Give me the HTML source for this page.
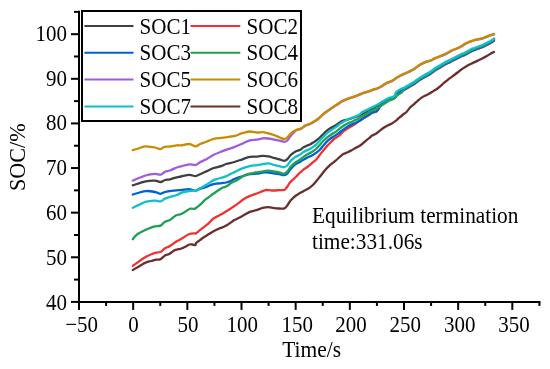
<!DOCTYPE html>
<html><head><meta charset="utf-8"><style>
html,body{margin:0;padding:0;background:#fff;}
svg{display:block;}
text{font-family:"Liberation Serif","Times New Roman",serif;font-size:21.5px;fill:#000;}
</style></head><body>
<svg width="550" height="369" viewBox="0 0 550 369">
<rect width="550" height="369" fill="#fff"/>
<path d="M132.80,185.40 C134.93,184.72 141.90,182.10 145.60,181.30 C149.30,180.50 152.52,180.48 155.00,180.60 C157.48,180.72 158.83,182.10 160.50,182.00 C162.17,181.90 163.42,180.45 165.00,180.00 C166.58,179.55 168.03,179.75 170.00,179.30 C171.97,178.85 174.95,177.77 176.80,177.30 C178.65,176.83 179.02,176.92 181.10,176.50 C183.18,176.08 186.92,174.87 189.30,174.80 C191.68,174.73 193.60,176.20 195.40,176.10 C197.20,176.00 198.18,175.03 200.10,174.20 C202.02,173.37 204.63,172.13 206.90,171.10 C209.17,170.07 211.22,168.87 213.70,168.00 C216.18,167.13 219.73,166.57 221.80,165.90 C223.87,165.23 224.02,164.65 226.10,164.00 C228.18,163.35 231.58,162.78 234.30,162.00 C237.02,161.22 239.82,160.15 242.40,159.30 C244.98,158.45 247.32,157.35 249.80,156.90 C252.28,156.45 255.15,156.77 257.30,156.60 C259.45,156.43 260.85,155.95 262.70,155.90 C264.55,155.85 266.55,155.97 268.40,156.30 C270.25,156.63 271.98,157.40 273.80,157.90 C275.62,158.40 277.55,158.82 279.30,159.30 C281.05,159.78 282.97,160.82 284.30,160.80 C285.63,160.78 286.27,160.13 287.30,159.20 C288.33,158.27 289.25,156.42 290.50,155.20 C291.75,153.98 293.17,152.80 294.80,151.90 C296.43,151.00 298.93,150.52 300.30,149.80 C301.67,149.08 302.00,148.23 303.00,147.60 C304.00,146.97 305.22,146.48 306.30,146.00 C307.38,145.52 308.42,145.23 309.50,144.70 C310.58,144.17 311.72,143.48 312.80,142.80 C313.88,142.12 314.92,141.40 316.00,140.60 C317.08,139.80 318.22,138.95 319.30,138.00 C320.38,137.05 321.42,135.97 322.50,134.90 C323.58,133.83 324.72,132.58 325.80,131.60 C326.88,130.62 327.88,129.75 329.00,129.00 C330.12,128.25 331.23,127.83 332.50,127.10 C333.77,126.37 335.23,125.48 336.60,124.60 C337.97,123.72 339.33,122.55 340.70,121.80 C342.07,121.05 343.55,120.48 344.80,120.10 C346.05,119.72 346.55,119.98 348.20,119.50 C349.85,119.02 352.80,117.87 354.70,117.20 C356.60,116.53 357.97,116.23 359.60,115.50 C361.23,114.77 362.87,113.75 364.50,112.80 C366.13,111.85 368.15,110.50 369.40,109.80 C370.65,109.10 370.75,109.23 372.00,108.60 C373.25,107.97 375.32,106.88 376.90,106.00 C378.48,105.12 380.08,104.15 381.50,103.30 C382.92,102.45 384.10,101.63 385.40,100.90 C386.70,100.17 388.17,99.35 389.30,98.90 C390.43,98.45 391.22,98.62 392.20,98.20 C393.18,97.78 394.57,97.20 395.20,96.40 C395.83,95.60 395.22,94.35 396.00,93.40 C396.78,92.45 398.42,91.53 399.90,90.70 C401.38,89.87 403.25,89.25 404.90,88.40 C406.55,87.55 408.18,86.55 409.80,85.60 C411.42,84.65 412.98,83.78 414.60,82.70 C416.22,81.62 417.87,80.18 419.50,79.10 C421.13,78.02 422.65,77.18 424.40,76.20 C426.15,75.22 428.18,74.37 430.00,73.20 C431.82,72.03 433.60,70.33 435.30,69.20 C437.00,68.07 438.57,67.35 440.20,66.40 C441.83,65.45 443.47,64.38 445.10,63.50 C446.73,62.62 448.35,61.93 450.00,61.10 C451.65,60.27 453.67,59.18 455.00,58.50 C456.33,57.82 456.75,57.63 458.00,57.00 C459.25,56.37 461.50,55.12 462.50,54.70 C463.50,54.28 463.10,54.92 464.00,54.50 C464.90,54.08 466.60,52.93 467.90,52.20 C469.20,51.47 470.50,50.68 471.80,50.10 C473.10,49.52 474.40,49.18 475.70,48.70 C477.00,48.22 478.30,47.70 479.60,47.20 C480.90,46.70 482.20,46.27 483.50,45.70 C484.80,45.13 486.10,44.48 487.40,43.80 C488.70,43.12 490.20,42.30 491.30,41.60 C492.40,40.90 493.55,39.93 494.00,39.60" fill="none" stroke="#404040" stroke-width="2.3" stroke-linejoin="round" stroke-linecap="round"/>
<path d="M132.80,265.90 C134.93,264.43 141.90,259.28 145.60,257.10 C149.30,254.92 152.52,253.65 155.00,252.80 C157.48,251.95 158.83,252.75 160.50,252.00 C162.17,251.25 163.42,249.30 165.00,248.30 C166.58,247.30 168.03,247.17 170.00,246.00 C171.97,244.83 174.95,242.45 176.80,241.30 C178.65,240.15 179.10,240.28 181.10,239.10 C183.10,237.92 186.42,235.15 188.80,234.20 C191.18,233.25 194.20,233.53 195.40,233.40 C196.60,233.27 195.25,233.93 196.00,233.40 C196.75,232.87 198.60,231.23 199.90,230.20 C201.20,229.17 202.50,228.20 203.80,227.20 C205.10,226.20 206.57,225.18 207.70,224.20 C208.83,223.22 209.62,222.27 210.60,221.30 C211.58,220.33 212.45,219.23 213.60,218.40 C214.75,217.57 216.20,216.98 217.50,216.30 C218.80,215.62 220.10,215.03 221.40,214.30 C222.70,213.57 224.00,212.70 225.30,211.90 C226.60,211.10 228.08,210.22 229.20,209.50 C230.32,208.78 230.98,208.28 232.00,207.60 C233.02,206.92 234.22,206.13 235.30,205.40 C236.38,204.67 237.25,204.13 238.50,203.20 C239.75,202.27 241.53,200.72 242.80,199.80 C244.07,198.88 245.02,198.32 246.10,197.70 C247.18,197.08 248.03,196.60 249.30,196.10 C250.57,195.60 252.25,195.22 253.70,194.70 C255.15,194.18 256.55,193.58 258.00,193.00 C259.45,192.42 261.13,191.68 262.40,191.20 C263.67,190.72 264.52,190.28 265.60,190.10 C266.68,189.92 267.53,190.03 268.90,190.10 C270.27,190.17 272.07,190.50 273.80,190.50 C275.53,190.50 277.53,190.22 279.30,190.10 C281.07,189.98 283.23,190.13 284.40,189.80 C285.57,189.47 285.68,188.83 286.30,188.10 C286.92,187.37 287.48,186.32 288.10,185.40 C288.72,184.48 289.23,183.53 290.00,182.60 C290.77,181.67 291.78,180.68 292.70,179.80 C293.62,178.92 294.62,178.17 295.50,177.30 C296.38,176.43 297.12,175.48 298.00,174.60 C298.88,173.72 299.80,172.90 300.80,172.00 C301.80,171.10 302.80,170.12 304.00,169.20 C305.20,168.28 306.58,167.58 308.00,166.50 C309.42,165.42 311.08,163.92 312.50,162.70 C313.92,161.48 315.22,160.58 316.50,159.20 C317.78,157.82 318.90,156.05 320.20,154.40 C321.50,152.75 323.10,150.77 324.30,149.30 C325.50,147.83 326.35,146.75 327.40,145.60 C328.45,144.45 329.50,143.50 330.60,142.40 C331.70,141.30 332.58,140.13 334.00,139.00 C335.42,137.87 337.58,136.85 339.10,135.60 C340.62,134.35 341.75,132.63 343.10,131.50 C344.45,130.37 345.97,129.58 347.20,128.80 C348.43,128.02 349.45,127.43 350.50,126.80 C351.55,126.17 352.50,125.63 353.50,125.00 C354.50,124.37 355.48,123.68 356.50,123.00 C357.52,122.32 358.27,121.78 359.60,120.90 C360.93,120.02 362.87,118.72 364.50,117.70 C366.13,116.68 368.15,115.62 369.40,114.80 C370.65,113.98 370.75,113.40 372.00,112.80 C373.25,112.20 375.32,112.62 376.90,111.20 C378.48,109.78 380.08,105.85 381.50,104.30 C382.92,102.75 384.10,102.63 385.40,101.90 C386.70,101.17 388.17,100.35 389.30,99.90 C390.43,99.45 391.22,99.62 392.20,99.20 C393.18,98.78 394.57,98.20 395.20,97.40 C395.83,96.60 395.22,95.35 396.00,94.40 C396.78,93.45 398.42,92.53 399.90,91.70 C401.38,90.87 403.25,90.25 404.90,89.40 C406.55,88.55 408.18,87.55 409.80,86.60 C411.42,85.65 412.98,84.78 414.60,83.70 C416.22,82.62 417.87,81.18 419.50,80.10 C421.13,79.02 422.65,78.18 424.40,77.20 C426.15,76.22 428.18,75.37 430.00,74.20 C431.82,73.03 433.60,71.33 435.30,70.20 C437.00,69.07 438.57,68.35 440.20,67.40 C441.83,66.45 443.47,65.38 445.10,64.50 C446.73,63.62 448.35,62.93 450.00,62.10 C451.65,61.27 453.67,60.18 455.00,59.50 C456.33,58.82 456.75,58.63 458.00,58.00 C459.25,57.37 461.50,56.12 462.50,55.70 C463.50,55.28 463.10,55.92 464.00,55.50 C464.90,55.08 466.60,53.93 467.90,53.20 C469.20,52.47 470.50,51.68 471.80,51.10 C473.10,50.52 474.40,50.18 475.70,49.70 C477.00,49.22 478.30,48.70 479.60,48.20 C480.90,47.70 482.20,47.27 483.50,46.70 C484.80,46.13 486.10,45.48 487.40,44.80 C488.70,44.12 490.20,43.30 491.30,42.60 C492.40,41.90 493.55,40.93 494.00,40.60" fill="none" stroke="#F03232" stroke-width="2.3" stroke-linejoin="round" stroke-linecap="round"/>
<path d="M132.80,194.50 C134.93,193.93 141.90,191.52 145.60,191.10 C149.30,190.68 152.52,191.55 155.00,192.00 C157.48,192.45 158.83,193.80 160.50,193.80 C162.17,193.80 163.42,192.45 165.00,192.00 C166.58,191.55 168.03,191.38 170.00,191.10 C171.97,190.82 174.95,190.47 176.80,190.30 C178.65,190.13 179.02,190.30 181.10,190.10 C183.18,189.90 186.92,189.00 189.30,189.10 C191.68,189.20 193.57,190.78 195.40,190.70 C197.23,190.62 198.75,189.13 200.30,188.60 C201.85,188.07 203.25,187.97 204.70,187.50 C206.15,187.03 207.57,186.35 209.00,185.80 C210.43,185.25 211.85,184.58 213.30,184.20 C214.75,183.82 216.25,183.68 217.70,183.50 C219.15,183.32 220.55,183.27 222.00,183.10 C223.45,182.93 224.95,182.85 226.40,182.50 C227.85,182.15 229.38,181.58 230.70,181.00 C232.02,180.42 232.35,179.78 234.30,179.00 C236.25,178.22 239.82,177.10 242.40,176.30 C244.98,175.50 247.32,174.65 249.80,174.20 C252.28,173.75 255.15,173.88 257.30,173.60 C259.45,173.32 260.85,172.68 262.70,172.50 C264.55,172.32 266.55,172.37 268.40,172.50 C270.25,172.63 271.98,173.02 273.80,173.30 C275.62,173.58 277.55,173.90 279.30,174.20 C281.05,174.50 282.97,175.20 284.30,175.10 C285.63,175.00 286.27,174.57 287.30,173.60 C288.33,172.63 289.25,170.75 290.50,169.30 C291.75,167.85 293.17,166.17 294.80,164.90 C296.43,163.63 298.48,162.78 300.30,161.70 C302.12,160.62 304.42,159.15 305.70,158.40 C306.98,157.65 307.10,157.60 308.00,157.20 C308.90,156.80 310.13,156.47 311.10,156.00 C312.07,155.53 312.80,155.03 313.80,154.40 C314.80,153.77 316.02,153.05 317.10,152.20 C318.18,151.35 319.40,150.23 320.30,149.30 C321.20,148.37 321.58,147.68 322.50,146.60 C323.42,145.52 324.72,143.97 325.80,142.80 C326.88,141.63 327.92,140.53 329.00,139.60 C330.08,138.67 331.43,137.77 332.30,137.20 C333.17,136.63 333.20,136.83 334.20,136.20 C335.20,135.57 336.95,134.38 338.30,133.40 C339.65,132.42 340.95,131.30 342.30,130.30 C343.65,129.30 345.03,128.28 346.40,127.40 C347.77,126.52 349.57,125.53 350.50,125.00 C351.43,124.47 351.28,124.50 352.00,124.20 C352.72,123.90 353.53,123.78 354.80,123.20 C356.07,122.62 357.98,121.65 359.60,120.70 C361.22,119.75 362.87,118.52 364.50,117.50 C366.13,116.48 368.15,115.42 369.40,114.60 C370.65,113.78 370.75,113.20 372.00,112.60 C373.25,112.00 375.32,112.42 376.90,111.00 C378.48,109.58 380.08,105.65 381.50,104.10 C382.92,102.55 384.10,102.43 385.40,101.70 C386.70,100.97 388.17,100.15 389.30,99.70 C390.43,99.25 391.22,99.42 392.20,99.00 C393.18,98.58 394.57,98.00 395.20,97.20 C395.83,96.40 395.22,95.15 396.00,94.20 C396.78,93.25 398.42,92.33 399.90,91.50 C401.38,90.67 403.25,90.05 404.90,89.20 C406.55,88.35 408.18,87.35 409.80,86.40 C411.42,85.45 412.98,84.58 414.60,83.50 C416.22,82.42 417.87,80.98 419.50,79.90 C421.13,78.82 422.65,77.98 424.40,77.00 C426.15,76.02 428.18,75.17 430.00,74.00 C431.82,72.83 433.60,71.13 435.30,70.00 C437.00,68.87 438.57,68.15 440.20,67.20 C441.83,66.25 443.47,65.18 445.10,64.30 C446.73,63.42 448.35,62.73 450.00,61.90 C451.65,61.07 453.67,59.98 455.00,59.30 C456.33,58.62 456.75,58.43 458.00,57.80 C459.25,57.17 461.50,55.92 462.50,55.50 C463.50,55.08 463.10,55.72 464.00,55.30 C464.90,54.88 466.60,53.73 467.90,53.00 C469.20,52.27 470.50,51.48 471.80,50.90 C473.10,50.32 474.40,49.98 475.70,49.50 C477.00,49.02 478.30,48.50 479.60,48.00 C480.90,47.50 482.20,47.07 483.50,46.50 C484.80,45.93 486.10,45.28 487.40,44.60 C488.70,43.92 490.20,43.10 491.30,42.40 C492.40,41.70 493.55,40.73 494.00,40.40" fill="none" stroke="#0060D8" stroke-width="2.3" stroke-linejoin="round" stroke-linecap="round"/>
<path d="M132.80,239.20 C133.50,238.42 135.08,235.95 137.00,234.50 C138.92,233.05 142.13,231.58 144.30,230.50 C146.47,229.42 148.22,228.70 150.00,228.00 C151.78,227.30 153.25,226.70 155.00,226.30 C156.75,225.90 158.83,226.35 160.50,225.60 C162.17,224.85 163.35,222.78 165.00,221.80 C166.65,220.82 168.60,220.77 170.40,219.70 C172.20,218.63 173.98,216.35 175.80,215.40 C177.62,214.45 179.48,214.78 181.30,214.00 C183.12,213.22 185.17,211.60 186.70,210.70 C188.23,209.80 189.23,208.90 190.50,208.60 C191.77,208.30 193.13,209.18 194.30,208.90 C195.47,208.62 196.23,207.87 197.50,206.90 C198.77,205.93 200.65,204.27 201.90,203.10 C203.15,201.93 203.82,200.92 205.00,199.90 C206.18,198.88 207.55,198.07 209.00,197.00 C210.45,195.93 211.57,195.00 213.70,193.50 C215.83,192.00 219.73,189.18 221.80,188.00 C223.87,186.82 224.40,187.30 226.10,186.40 C227.80,185.50 230.47,183.50 232.00,182.60 C233.53,181.70 234.22,181.57 235.30,181.00 C236.38,180.43 237.25,179.98 238.50,179.20 C239.75,178.42 241.35,177.10 242.80,176.30 C244.25,175.50 245.75,174.90 247.20,174.40 C248.65,173.90 250.07,173.62 251.50,173.30 C252.93,172.98 254.35,172.75 255.80,172.50 C257.25,172.25 258.75,172.03 260.20,171.80 C261.65,171.57 263.05,171.28 264.50,171.10 C265.95,170.92 267.35,170.63 268.90,170.70 C270.45,170.77 272.07,171.20 273.80,171.50 C275.53,171.80 277.55,172.15 279.30,172.50 C281.05,172.85 282.97,173.77 284.30,173.60 C285.63,173.43 286.27,172.58 287.30,171.50 C288.33,170.42 289.25,168.55 290.50,167.10 C291.75,165.65 293.17,164.07 294.80,162.80 C296.43,161.53 298.93,160.42 300.30,159.50 C301.67,158.58 302.00,158.05 303.00,157.30 C304.00,156.55 305.22,155.67 306.30,155.00 C307.38,154.33 308.42,153.90 309.50,153.30 C310.58,152.70 311.72,152.12 312.80,151.40 C313.88,150.68 314.92,150.00 316.00,149.00 C317.08,148.00 318.22,146.62 319.30,145.40 C320.38,144.18 321.42,142.82 322.50,141.70 C323.58,140.58 324.72,139.65 325.80,138.70 C326.88,137.75 327.88,136.82 329.00,136.00 C330.12,135.18 331.23,134.62 332.50,133.80 C333.77,132.98 335.23,132.08 336.60,131.10 C337.97,130.12 339.33,128.92 340.70,127.90 C342.07,126.88 343.45,125.82 344.80,125.00 C346.15,124.18 347.60,123.53 348.80,123.00 C350.00,122.47 351.00,122.25 352.00,121.80 C353.00,121.35 353.53,120.95 354.80,120.30 C356.07,119.65 357.98,118.78 359.60,117.90 C361.22,117.02 362.87,115.95 364.50,115.00 C366.13,114.05 368.15,112.93 369.40,112.20 C370.65,111.47 370.75,111.20 372.00,110.60 C373.25,110.00 375.27,109.48 376.90,108.60 C378.53,107.72 379.73,106.63 381.80,105.30 C383.87,103.97 387.57,101.57 389.30,100.60 C391.03,99.63 391.22,100.02 392.20,99.50 C393.18,98.98 394.23,98.27 395.20,97.50 C396.17,96.73 396.87,95.78 398.00,94.90 C399.13,94.02 400.85,93.32 402.00,92.20 C403.15,91.08 403.60,89.33 404.90,88.20 C406.20,87.07 408.18,86.35 409.80,85.40 C411.42,84.45 412.98,83.58 414.60,82.50 C416.22,81.42 417.87,79.98 419.50,78.90 C421.13,77.82 422.65,76.98 424.40,76.00 C426.15,75.02 428.18,74.17 430.00,73.00 C431.82,71.83 433.60,70.13 435.30,69.00 C437.00,67.87 438.57,67.15 440.20,66.20 C441.83,65.25 443.47,64.18 445.10,63.30 C446.73,62.42 448.35,61.73 450.00,60.90 C451.65,60.07 453.67,58.98 455.00,58.30 C456.33,57.62 456.75,57.43 458.00,56.80 C459.25,56.17 461.50,54.92 462.50,54.50 C463.50,54.08 463.10,54.72 464.00,54.30 C464.90,53.88 466.60,52.73 467.90,52.00 C469.20,51.27 470.50,50.48 471.80,49.90 C473.10,49.32 474.40,48.98 475.70,48.50 C477.00,48.02 478.30,47.50 479.60,47.00 C480.90,46.50 482.20,46.07 483.50,45.50 C484.80,44.93 486.10,44.28 487.40,43.60 C488.70,42.92 490.20,42.10 491.30,41.40 C492.40,40.70 493.55,39.73 494.00,39.40" fill="none" stroke="#20A050" stroke-width="2.3" stroke-linejoin="round" stroke-linecap="round"/>
<path d="M132.80,180.60 C134.93,179.75 141.90,176.62 145.60,175.50 C149.30,174.38 152.52,174.05 155.00,173.90 C157.48,173.75 158.83,174.95 160.50,174.60 C162.17,174.25 163.42,172.48 165.00,171.80 C166.58,171.12 168.03,171.22 170.00,170.50 C171.97,169.78 174.95,168.20 176.80,167.50 C178.65,166.80 179.02,166.83 181.10,166.30 C183.18,165.77 186.92,164.52 189.30,164.30 C191.68,164.08 193.60,165.33 195.40,165.00 C197.20,164.67 198.18,163.32 200.10,162.30 C202.02,161.28 204.63,160.15 206.90,158.90 C209.17,157.65 211.22,156.05 213.70,154.80 C216.18,153.55 219.73,152.23 221.80,151.40 C223.87,150.57 224.02,150.52 226.10,149.80 C228.18,149.08 231.58,148.12 234.30,147.10 C237.02,146.08 239.82,144.83 242.40,143.70 C244.98,142.57 247.32,140.98 249.80,140.30 C252.28,139.62 255.15,139.93 257.30,139.60 C259.45,139.27 260.85,138.48 262.70,138.30 C264.55,138.12 266.55,138.30 268.40,138.50 C270.25,138.70 271.98,139.15 273.80,139.50 C275.62,139.85 277.55,140.22 279.30,140.60 C281.05,140.98 282.95,141.82 284.30,141.80 C285.65,141.78 286.48,141.30 287.40,140.50 C288.32,139.70 288.87,138.20 289.80,137.00 C290.73,135.80 291.92,134.42 293.00,133.30 C294.08,132.18 294.95,131.07 296.30,130.30 C297.65,129.53 299.65,129.43 301.10,128.70 C302.55,127.97 303.80,126.57 305.00,125.90 C306.20,125.23 307.08,125.23 308.30,124.70 C309.52,124.17 310.95,123.43 312.30,122.70 C313.65,121.97 315.05,121.25 316.40,120.30 C317.75,119.35 319.05,118.17 320.40,117.00 C321.75,115.83 323.27,114.32 324.50,113.30 C325.73,112.28 326.72,111.67 327.80,110.90 C328.88,110.13 329.75,109.55 331.00,108.70 C332.25,107.85 334.05,106.62 335.30,105.80 C336.55,104.98 337.42,104.50 338.50,103.80 C339.58,103.10 340.58,102.28 341.80,101.60 C343.02,100.92 344.45,100.27 345.80,99.70 C347.15,99.13 348.53,98.67 349.90,98.20 C351.27,97.73 352.65,97.38 354.00,96.90 C355.35,96.42 356.67,95.85 358.00,95.30 C359.33,94.75 360.68,94.10 362.00,93.60 C363.32,93.10 364.60,92.72 365.90,92.30 C367.20,91.88 368.50,91.55 369.80,91.10 C371.10,90.65 372.40,90.03 373.70,89.60 C375.00,89.17 376.30,89.00 377.60,88.50 C378.90,88.00 380.10,87.43 381.50,86.60 C382.90,85.77 384.20,84.45 386.00,83.50 C387.80,82.55 390.63,81.77 392.30,80.90 C393.97,80.03 394.73,79.10 396.00,78.30 C397.27,77.50 398.60,76.80 399.90,76.10 C401.20,75.40 402.50,74.70 403.80,74.10 C405.10,73.50 406.40,73.08 407.70,72.50 C409.00,71.92 410.30,71.33 411.60,70.60 C412.90,69.87 414.20,68.98 415.50,68.10 C416.80,67.22 418.10,66.12 419.40,65.30 C420.70,64.48 422.00,63.80 423.30,63.20 C424.60,62.60 425.90,62.15 427.20,61.70 C428.50,61.25 429.98,60.97 431.10,60.50 C432.22,60.03 432.78,59.43 433.90,58.90 C435.02,58.37 436.50,57.82 437.80,57.30 C439.10,56.78 440.40,56.33 441.70,55.80 C443.00,55.27 444.30,54.75 445.60,54.10 C446.90,53.45 448.20,52.58 449.50,51.90 C450.80,51.22 452.10,50.57 453.40,50.00 C454.70,49.43 456.00,49.08 457.30,48.50 C458.60,47.92 459.75,47.32 461.20,46.50 C462.65,45.68 464.70,44.32 466.00,43.60 C467.30,42.88 467.42,42.80 469.00,42.20 C470.58,41.60 473.33,40.60 475.50,40.00 C477.67,39.40 479.83,39.25 482.00,38.60 C484.17,37.95 486.50,36.82 488.50,36.10 C490.50,35.38 493.08,34.60 494.00,34.30" fill="none" stroke="#A05CDC" stroke-width="2.3" stroke-linejoin="round" stroke-linecap="round"/>
<path d="M132.80,150.00 C133.50,149.83 135.63,149.42 137.00,149.00 C138.37,148.58 139.57,147.93 141.00,147.50 C142.43,147.07 144.10,146.52 145.60,146.40 C147.10,146.28 148.43,146.62 150.00,146.80 C151.57,146.98 153.25,147.10 155.00,147.50 C156.75,147.90 158.90,149.32 160.50,149.20 C162.10,149.08 163.02,147.25 164.60,146.80 C166.18,146.35 167.97,146.75 170.00,146.50 C172.03,146.25 174.97,145.50 176.80,145.30 C178.63,145.10 178.92,145.52 181.00,145.30 C183.08,145.08 186.90,143.82 189.30,144.00 C191.70,144.18 193.60,146.40 195.40,146.40 C197.20,146.40 198.18,144.82 200.10,144.00 C202.02,143.18 204.63,142.37 206.90,141.50 C209.17,140.63 211.22,139.40 213.70,138.80 C216.18,138.20 219.53,138.18 221.80,137.90 C224.07,137.62 225.73,137.33 227.30,137.10 C228.87,136.87 229.90,136.70 231.20,136.50 C232.50,136.30 233.23,136.47 235.10,135.90 C236.97,135.33 239.95,133.83 242.40,133.10 C244.85,132.37 247.32,131.60 249.80,131.50 C252.28,131.40 255.15,132.38 257.30,132.50 C259.45,132.62 261.00,132.08 262.70,132.20 C264.40,132.32 265.65,132.73 267.50,133.20 C269.35,133.67 271.83,134.32 273.80,135.00 C275.77,135.68 277.58,136.63 279.30,137.30 C281.02,137.97 282.90,138.85 284.10,139.00 C285.30,139.15 285.55,138.95 286.50,138.20 C287.45,137.45 288.72,135.58 289.80,134.50 C290.88,133.42 291.92,132.45 293.00,131.70 C294.08,130.95 294.95,130.55 296.30,130.00 C297.65,129.45 299.65,129.13 301.10,128.40 C302.55,127.67 303.80,126.27 305.00,125.60 C306.20,124.93 307.08,124.93 308.30,124.40 C309.52,123.87 310.95,123.13 312.30,122.40 C313.65,121.67 315.05,120.95 316.40,120.00 C317.75,119.05 319.05,117.87 320.40,116.70 C321.75,115.53 323.27,114.02 324.50,113.00 C325.73,111.98 326.72,111.37 327.80,110.60 C328.88,109.83 329.75,109.25 331.00,108.40 C332.25,107.55 334.05,106.32 335.30,105.50 C336.55,104.68 337.42,104.20 338.50,103.50 C339.58,102.80 340.58,101.98 341.80,101.30 C343.02,100.62 344.45,99.97 345.80,99.40 C347.15,98.83 348.53,98.37 349.90,97.90 C351.27,97.43 352.65,97.08 354.00,96.60 C355.35,96.12 356.67,95.55 358.00,95.00 C359.33,94.45 360.68,93.80 362.00,93.30 C363.32,92.80 364.60,92.42 365.90,92.00 C367.20,91.58 368.50,91.25 369.80,90.80 C371.10,90.35 372.40,89.73 373.70,89.30 C375.00,88.87 376.30,88.70 377.60,88.20 C378.90,87.70 380.10,87.13 381.50,86.30 C382.90,85.47 384.20,84.15 386.00,83.20 C387.80,82.25 390.63,81.47 392.30,80.60 C393.97,79.73 394.73,78.80 396.00,78.00 C397.27,77.20 398.60,76.50 399.90,75.80 C401.20,75.10 402.50,74.40 403.80,73.80 C405.10,73.20 406.40,72.78 407.70,72.20 C409.00,71.62 410.30,71.03 411.60,70.30 C412.90,69.57 414.20,68.68 415.50,67.80 C416.80,66.92 418.10,65.82 419.40,65.00 C420.70,64.18 422.00,63.50 423.30,62.90 C424.60,62.30 425.90,61.85 427.20,61.40 C428.50,60.95 429.98,60.67 431.10,60.20 C432.22,59.73 432.78,59.13 433.90,58.60 C435.02,58.07 436.50,57.52 437.80,57.00 C439.10,56.48 440.40,56.03 441.70,55.50 C443.00,54.97 444.30,54.45 445.60,53.80 C446.90,53.15 448.20,52.28 449.50,51.60 C450.80,50.92 452.10,50.27 453.40,49.70 C454.70,49.13 456.00,48.78 457.30,48.20 C458.60,47.62 459.75,47.02 461.20,46.20 C462.65,45.38 464.70,44.02 466.00,43.30 C467.30,42.58 467.42,42.50 469.00,41.90 C470.58,41.30 473.33,40.30 475.50,39.70 C477.67,39.10 479.83,38.95 482.00,38.30 C484.17,37.65 486.50,36.52 488.50,35.80 C490.50,35.08 493.08,34.30 494.00,34.00" fill="none" stroke="#C88C00" stroke-width="2.3" stroke-linejoin="round" stroke-linecap="round"/>
<path d="M132.80,207.80 C134.93,206.82 141.90,203.10 145.60,201.90 C149.30,200.70 152.52,200.70 155.00,200.60 C157.48,200.50 158.83,201.63 160.50,201.30 C162.17,200.97 163.42,199.35 165.00,198.60 C166.58,197.85 168.03,197.40 170.00,196.80 C171.97,196.20 174.95,195.67 176.80,195.00 C178.65,194.33 179.02,193.47 181.10,192.80 C183.18,192.13 186.92,191.35 189.30,191.00 C191.68,190.65 194.28,190.75 195.40,190.70 C196.52,190.65 195.18,191.13 196.00,190.70 C196.82,190.27 198.85,188.92 200.30,188.10 C201.75,187.28 203.25,186.63 204.70,185.80 C206.15,184.97 207.57,184.00 209.00,183.10 C210.43,182.20 211.85,181.12 213.30,180.40 C214.75,179.68 216.25,179.25 217.70,178.80 C219.15,178.35 220.55,178.15 222.00,177.70 C223.45,177.25 224.95,176.73 226.40,176.10 C227.85,175.47 229.38,174.55 230.70,173.90 C232.02,173.25 232.35,173.12 234.30,172.20 C236.25,171.28 239.82,169.42 242.40,168.40 C244.98,167.38 247.32,166.65 249.80,166.10 C252.28,165.55 255.15,165.43 257.30,165.10 C259.45,164.77 260.85,164.38 262.70,164.10 C264.55,163.82 266.55,163.27 268.40,163.40 C270.25,163.53 271.98,164.45 273.80,164.90 C275.62,165.35 277.55,165.73 279.30,166.10 C281.05,166.47 282.97,167.20 284.30,167.10 C285.63,167.00 286.27,166.50 287.30,165.50 C288.33,164.50 289.25,162.45 290.50,161.10 C291.75,159.75 293.17,158.52 294.80,157.40 C296.43,156.28 298.93,155.27 300.30,154.40 C301.67,153.53 302.00,152.83 303.00,152.20 C304.00,151.57 305.22,151.08 306.30,150.60 C307.38,150.12 308.42,149.88 309.50,149.30 C310.58,148.72 311.72,147.87 312.80,147.10 C313.88,146.33 314.92,145.68 316.00,144.70 C317.08,143.72 318.22,142.40 319.30,141.20 C320.38,140.00 321.42,138.65 322.50,137.50 C323.58,136.35 324.72,135.28 325.80,134.30 C326.88,133.32 327.88,132.42 329.00,131.60 C330.12,130.78 331.23,130.23 332.50,129.40 C333.77,128.57 335.23,127.60 336.60,126.60 C337.97,125.60 339.33,124.35 340.70,123.40 C342.07,122.45 343.45,121.65 344.80,120.90 C346.15,120.15 347.60,119.43 348.80,118.90 C350.00,118.37 351.00,118.07 352.00,117.70 C353.00,117.33 353.53,117.22 354.80,116.70 C356.07,116.18 358.40,115.33 359.60,114.60 C360.80,113.87 360.95,113.00 362.00,112.30 C363.05,111.60 364.60,111.05 365.90,110.40 C367.20,109.75 368.50,109.05 369.80,108.40 C371.10,107.75 372.40,107.15 373.70,106.50 C375.00,105.85 376.30,105.23 377.60,104.50 C378.90,103.77 380.20,102.90 381.50,102.10 C382.80,101.30 384.10,100.43 385.40,99.70 C386.70,98.97 388.17,98.15 389.30,97.70 C390.43,97.25 391.22,97.42 392.20,97.00 C393.18,96.58 394.57,96.00 395.20,95.20 C395.83,94.40 395.22,93.15 396.00,92.20 C396.78,91.25 398.42,90.33 399.90,89.50 C401.38,88.67 403.25,88.05 404.90,87.20 C406.55,86.35 408.18,85.35 409.80,84.40 C411.42,83.45 412.98,82.58 414.60,81.50 C416.22,80.42 417.87,78.98 419.50,77.90 C421.13,76.82 422.65,75.98 424.40,75.00 C426.15,74.02 428.18,73.17 430.00,72.00 C431.82,70.83 433.60,69.13 435.30,68.00 C437.00,66.87 438.57,66.15 440.20,65.20 C441.83,64.25 443.47,63.18 445.10,62.30 C446.73,61.42 448.35,60.73 450.00,59.90 C451.65,59.07 453.67,57.98 455.00,57.30 C456.33,56.62 456.75,56.43 458.00,55.80 C459.25,55.17 461.50,53.92 462.50,53.50 C463.50,53.08 463.10,53.72 464.00,53.30 C464.90,52.88 466.60,51.73 467.90,51.00 C469.20,50.27 470.50,49.48 471.80,48.90 C473.10,48.32 474.40,47.98 475.70,47.50 C477.00,47.02 478.30,46.50 479.60,46.00 C480.90,45.50 482.20,45.07 483.50,44.50 C484.80,43.93 486.10,43.28 487.40,42.60 C488.70,41.92 490.20,41.10 491.30,40.40 C492.40,39.70 493.55,38.73 494.00,38.40" fill="none" stroke="#10C0C8" stroke-width="2.3" stroke-linejoin="round" stroke-linecap="round"/>
<path d="M132.80,270.00 C134.50,268.98 140.75,265.17 143.00,263.90 C145.25,262.63 145.22,262.82 146.30,262.40 C147.38,261.98 148.42,261.70 149.50,261.40 C150.58,261.10 151.72,260.90 152.80,260.60 C153.88,260.30 154.80,259.80 156.00,259.60 C157.20,259.40 158.85,259.80 160.00,259.40 C161.15,259.00 161.92,257.92 162.90,257.20 C163.88,256.48 164.92,255.60 165.90,255.10 C166.88,254.60 167.83,254.67 168.80,254.20 C169.77,253.73 170.73,252.97 171.70,252.30 C172.67,251.63 173.62,250.68 174.60,250.20 C175.58,249.72 176.62,249.62 177.60,249.40 C178.58,249.18 179.53,249.20 180.50,248.90 C181.47,248.60 182.43,248.05 183.40,247.60 C184.37,247.15 185.32,246.72 186.30,246.20 C187.28,245.68 188.32,244.78 189.30,244.50 C190.28,244.22 191.18,244.38 192.20,244.50 C193.22,244.62 194.77,245.43 195.40,245.20 C196.03,244.97 195.25,243.93 196.00,243.10 C196.75,242.27 198.60,241.17 199.90,240.20 C201.20,239.23 202.50,238.20 203.80,237.30 C205.10,236.40 206.40,235.62 207.70,234.80 C209.00,233.98 210.30,233.17 211.60,232.40 C212.90,231.63 214.20,230.85 215.50,230.20 C216.80,229.55 218.10,229.03 219.40,228.50 C220.70,227.97 222.00,227.57 223.30,227.00 C224.60,226.43 225.75,225.98 227.20,225.10 C228.65,224.22 230.82,222.53 232.00,221.70 C233.18,220.87 232.57,221.05 234.30,220.10 C236.03,219.15 239.82,217.37 242.40,216.00 C244.98,214.63 247.32,212.92 249.80,211.90 C252.28,210.88 255.15,210.57 257.30,209.90 C259.45,209.23 260.85,208.35 262.70,207.90 C264.55,207.45 266.55,207.17 268.40,207.20 C270.25,207.23 271.98,207.88 273.80,208.10 C275.62,208.32 277.53,208.45 279.30,208.50 C281.07,208.55 283.08,208.88 284.40,208.40 C285.72,207.92 286.27,206.80 287.20,205.60 C288.13,204.40 289.08,202.40 290.00,201.20 C290.92,200.00 291.63,199.38 292.70,198.40 C293.77,197.42 295.30,196.10 296.40,195.30 C297.50,194.50 298.08,194.33 299.30,193.60 C300.52,192.87 302.25,191.72 303.70,190.90 C305.15,190.08 306.57,189.60 308.00,188.70 C309.43,187.80 310.85,186.85 312.30,185.50 C313.75,184.15 315.25,182.32 316.70,180.60 C318.15,178.88 319.55,177.00 321.00,175.20 C322.45,173.40 323.95,171.43 325.40,169.80 C326.85,168.17 328.10,166.85 329.70,165.40 C331.30,163.95 332.97,162.82 335.00,161.10 C337.03,159.38 340.43,156.32 341.90,155.10 C343.37,153.88 342.83,154.27 343.80,153.80 C344.77,153.33 346.40,152.88 347.70,152.30 C349.00,151.72 350.30,151.03 351.60,150.30 C352.90,149.57 354.20,148.62 355.50,147.90 C356.80,147.18 358.10,146.82 359.40,146.00 C360.70,145.18 362.00,144.07 363.30,143.00 C364.60,141.93 366.00,140.60 367.20,139.60 C368.40,138.60 369.70,137.67 370.50,137.00 C371.30,136.33 371.10,136.15 372.00,135.60 C372.90,135.05 374.60,134.52 375.90,133.70 C377.20,132.88 378.50,131.68 379.80,130.70 C381.10,129.72 382.40,128.68 383.70,127.80 C385.00,126.92 386.30,126.08 387.60,125.40 C388.90,124.72 390.20,124.40 391.50,123.70 C392.80,123.00 394.10,122.20 395.40,121.20 C396.70,120.20 398.00,118.82 399.30,117.70 C400.60,116.58 402.00,115.45 403.20,114.50 C404.40,113.55 405.38,113.13 406.50,112.00 C407.62,110.87 408.68,108.98 409.90,107.70 C411.12,106.42 412.50,105.43 413.80,104.30 C415.10,103.17 416.40,102.02 417.70,100.90 C419.00,99.78 420.30,98.50 421.60,97.60 C422.90,96.70 424.20,96.17 425.50,95.50 C426.80,94.83 428.10,94.33 429.40,93.60 C430.70,92.87 432.00,91.92 433.30,91.10 C434.60,90.28 435.75,89.77 437.20,88.70 C438.65,87.63 440.88,85.67 442.00,84.70 C443.12,83.73 442.93,83.72 443.90,82.90 C444.87,82.08 446.50,80.80 447.80,79.80 C449.10,78.80 450.40,77.87 451.70,76.90 C453.00,75.93 454.30,74.98 455.60,74.00 C456.90,73.02 458.20,71.98 459.50,71.00 C460.80,70.02 462.10,68.98 463.40,68.10 C464.70,67.22 466.00,66.43 467.30,65.70 C468.60,64.97 469.80,64.38 471.20,63.70 C472.60,63.02 474.30,62.25 475.70,61.60 C477.10,60.95 478.30,60.43 479.60,59.80 C480.90,59.17 482.20,58.47 483.50,57.80 C484.80,57.13 486.10,56.55 487.40,55.80 C488.70,55.05 490.20,53.95 491.30,53.30 C492.40,52.65 493.55,52.13 494.00,51.90" fill="none" stroke="#6B2E2E" stroke-width="2.3" stroke-linejoin="round" stroke-linecap="round"/>
<line x1="79.0" y1="10.8" x2="79.0" y2="302.9" stroke="#000" stroke-width="2"/>
<line x1="78.0" y1="301.9" x2="540.4" y2="301.9" stroke="#000" stroke-width="2"/>
<line x1="71.0" y1="301.90" x2="79.0" y2="301.90" stroke="#000" stroke-width="2"/>
<line x1="74.0" y1="279.59" x2="79.0" y2="279.59" stroke="#000" stroke-width="2"/>
<line x1="71.0" y1="257.28" x2="79.0" y2="257.28" stroke="#000" stroke-width="2"/>
<line x1="74.0" y1="234.97" x2="79.0" y2="234.97" stroke="#000" stroke-width="2"/>
<line x1="71.0" y1="212.66" x2="79.0" y2="212.66" stroke="#000" stroke-width="2"/>
<line x1="74.0" y1="190.35" x2="79.0" y2="190.35" stroke="#000" stroke-width="2"/>
<line x1="71.0" y1="168.04" x2="79.0" y2="168.04" stroke="#000" stroke-width="2"/>
<line x1="74.0" y1="145.73" x2="79.0" y2="145.73" stroke="#000" stroke-width="2"/>
<line x1="71.0" y1="123.42" x2="79.0" y2="123.42" stroke="#000" stroke-width="2"/>
<line x1="74.0" y1="101.11" x2="79.0" y2="101.11" stroke="#000" stroke-width="2"/>
<line x1="71.0" y1="78.80" x2="79.0" y2="78.80" stroke="#000" stroke-width="2"/>
<line x1="74.0" y1="56.49" x2="79.0" y2="56.49" stroke="#000" stroke-width="2"/>
<line x1="71.0" y1="34.18" x2="79.0" y2="34.18" stroke="#000" stroke-width="2"/>
<line x1="74.0" y1="11.87" x2="79.0" y2="11.87" stroke="#000" stroke-width="2"/>
<line x1="79.00" y1="301.9" x2="79.00" y2="309.9" stroke="#000" stroke-width="2"/>
<line x1="106.09" y1="301.9" x2="106.09" y2="305.9" stroke="#000" stroke-width="2"/>
<line x1="133.17" y1="301.9" x2="133.17" y2="309.9" stroke="#000" stroke-width="2"/>
<line x1="160.25" y1="301.9" x2="160.25" y2="305.9" stroke="#000" stroke-width="2"/>
<line x1="187.33" y1="301.9" x2="187.33" y2="309.9" stroke="#000" stroke-width="2"/>
<line x1="214.42" y1="301.9" x2="214.42" y2="305.9" stroke="#000" stroke-width="2"/>
<line x1="241.50" y1="301.9" x2="241.50" y2="309.9" stroke="#000" stroke-width="2"/>
<line x1="268.58" y1="301.9" x2="268.58" y2="305.9" stroke="#000" stroke-width="2"/>
<line x1="295.66" y1="301.9" x2="295.66" y2="309.9" stroke="#000" stroke-width="2"/>
<line x1="322.75" y1="301.9" x2="322.75" y2="305.9" stroke="#000" stroke-width="2"/>
<line x1="349.83" y1="301.9" x2="349.83" y2="309.9" stroke="#000" stroke-width="2"/>
<line x1="376.91" y1="301.9" x2="376.91" y2="305.9" stroke="#000" stroke-width="2"/>
<line x1="404.00" y1="301.9" x2="404.00" y2="309.9" stroke="#000" stroke-width="2"/>
<line x1="431.08" y1="301.9" x2="431.08" y2="305.9" stroke="#000" stroke-width="2"/>
<line x1="458.16" y1="301.9" x2="458.16" y2="309.9" stroke="#000" stroke-width="2"/>
<line x1="485.24" y1="301.9" x2="485.24" y2="305.9" stroke="#000" stroke-width="2"/>
<line x1="512.32" y1="301.9" x2="512.32" y2="309.9" stroke="#000" stroke-width="2"/>
<line x1="539.41" y1="301.9" x2="539.41" y2="305.9" stroke="#000" stroke-width="2"/>
<rect x="82" y="11" width="219" height="110" fill="#fff" stroke="#000" stroke-width="2"/>
<line x1="84.4" y1="25.9" x2="133.5" y2="25.9" stroke="#404040" stroke-width="2"/>
<text transform="translate(139.6,33.50) scale(0.98,1.10)">SOC1</text>
<line x1="190.5" y1="25.9" x2="240.3" y2="25.9" stroke="#F03232" stroke-width="2"/>
<text transform="translate(246.6,33.50) scale(0.98,1.10)">SOC2</text>
<line x1="84.4" y1="52.7" x2="133.5" y2="52.7" stroke="#0060D8" stroke-width="2"/>
<text transform="translate(139.6,60.30) scale(0.98,1.10)">SOC3</text>
<line x1="190.5" y1="52.7" x2="240.3" y2="52.7" stroke="#20A050" stroke-width="2"/>
<text transform="translate(246.6,60.30) scale(0.98,1.10)">SOC4</text>
<line x1="84.4" y1="79.5" x2="133.5" y2="79.5" stroke="#A05CDC" stroke-width="2"/>
<text transform="translate(139.6,87.10) scale(0.98,1.10)">SOC5</text>
<line x1="190.5" y1="79.5" x2="240.3" y2="79.5" stroke="#C88C00" stroke-width="2"/>
<text transform="translate(246.6,87.10) scale(0.98,1.10)">SOC6</text>
<line x1="84.4" y1="106.4" x2="133.5" y2="106.4" stroke="#10C0C8" stroke-width="2"/>
<text transform="translate(139.6,114.00) scale(0.98,1.10)">SOC7</text>
<line x1="190.5" y1="106.4" x2="240.3" y2="106.4" stroke="#6B2E2E" stroke-width="2"/>
<text transform="translate(246.6,114.00) scale(0.98,1.10)">SOC8</text>
<text transform="translate(67.0,309.60) scale(0.975,1.075)" text-anchor="end">40</text>
<text transform="translate(67.0,265.00) scale(0.975,1.075)" text-anchor="end">50</text>
<text transform="translate(67.0,220.40) scale(0.975,1.075)" text-anchor="end">60</text>
<text transform="translate(67.0,175.30) scale(0.975,1.075)" text-anchor="end">70</text>
<text transform="translate(67.0,130.40) scale(0.975,1.075)" text-anchor="end">80</text>
<text transform="translate(67.0,85.90) scale(0.975,1.075)" text-anchor="end">90</text>
<text transform="translate(67.0,40.90) scale(0.975,1.075)" text-anchor="end">100</text>
<text transform="translate(81.50,331.7) scale(0.975,1.075)" text-anchor="middle">−50</text>
<text transform="translate(133.45,331.7) scale(0.975,1.075)" text-anchor="middle">0</text>
<text transform="translate(187.90,331.7) scale(0.975,1.075)" text-anchor="middle">50</text>
<text transform="translate(242.30,331.7) scale(0.975,1.075)" text-anchor="middle">100</text>
<text transform="translate(297.30,331.7) scale(0.975,1.075)" text-anchor="middle">150</text>
<text transform="translate(350.90,331.7) scale(0.975,1.075)" text-anchor="middle">200</text>
<text transform="translate(405.20,331.7) scale(0.975,1.075)" text-anchor="middle">250</text>
<text transform="translate(459.80,331.7) scale(0.975,1.075)" text-anchor="middle">300</text>
<text transform="translate(514.00,331.7) scale(0.975,1.075)" text-anchor="middle">350</text>
<text transform="translate(311.6,357.0) scale(1.0,1.06)" text-anchor="middle">Time/s</text>
<text transform="translate(25.2,157.2) rotate(-90) scale(1.03,1.11)" text-anchor="middle">SOC/%</text>
<text transform="translate(312,222.9) scale(0.991,1.04)">Equilibrium termination</text>
<text transform="translate(312,249.0) scale(0.991,1.04)">time:331.06s</text>
</svg>
</body></html>
